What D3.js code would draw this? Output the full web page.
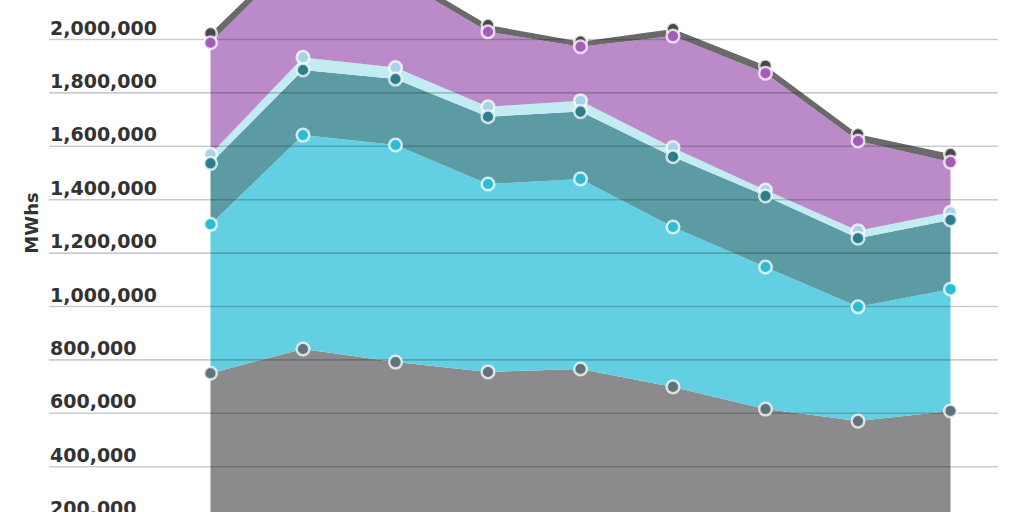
<!DOCTYPE html>
<html>
<head>
<meta charset="utf-8">
<script src="https://cdn.jsdelivr.net/npm/d3@7"></script>
<style>
  html, body { margin: 0; padding: 0; background: #ffffff; }
  svg { display: block; }
</style>
</head>
<body>
<svg id="chart" width="1024" height="512"></svg>
<script>
// ---- data (MWh) ----
const categories = ["1", "2", "3", "4", "5", "6", "7", "8", "9"];
const seriesKeys = ["s1", "s2", "s3", "s4", "s5", "s6"];
const s1 = [748000, 839000, 790000, 753000, 764000, 697000, 614000, 569000, 607000];
const s2 = [558000, 801000, 813000, 704000, 712000, 599000, 532000, 428000, 456000];
const s3 = [228000, 244000, 247000, 252000, 252000, 263000, 266000, 257000, 259000];
const s4 = [34000, 47000, 43000, 37000, 41000, 34000, 22000, 28000, 29000];
const s5 = [418000, 398000, 338000, 281000, 202000, 418000, 438000, 336000, 188000];
const s6 = [35000, 27000, 27000, 25000, 19000, 26000, 28000, 25000, 30000];
const tickValues = [200000, 400000, 600000, 800000, 1000000, 1200000, 1400000, 1600000, 1800000, 2000000];
const yLabel = "MWhs";

const areaColors = ["#8b8b8d", "#63cfe2", "#5c9ba4", "#c2ebf2", "#bb8bc9", "#6a6a6a"];
const dotColors  = ["#607378", "#2dbcd4", "#2a7f8b", "#a9d3e8", "#a35db7", "#484848"];

const seriesArrays = [s1, s2, s3, s4, s5, s6];
const table = categories.map((c, i) => {
  const row = { cat: c };
  seriesKeys.forEach((k, j) => row[k] = seriesArrays[j][i]);
  return row;
});

const svg = d3.select("#chart");

const x = d3.scalePoint().domain(categories).range([210.5, 950.5]);
const y = d3.scaleLinear().domain([0, 2000000]).range([573, 39]);

const stack = d3.stack().keys(seriesKeys);
const layers = stack(table);

const area = d3.area()
  .x(d => x(d.data.cat))
  .y0(d => y(d[0]))
  .y1(d => y(d[1]));

// areas
svg.append("g").selectAll("path")
  .data(layers)
  .join("path")
  .attr("d", area)
  .attr("fill", (d, i) => areaColors[i]);

// gridlines + tick labels via axis
const axis = d3.axisRight(y)
  .tickValues(tickValues)
  .tickSize(949)
  .tickFormat(d3.format(","));

const gAxis = svg.append("g")
  .attr("transform", "translate(49,0)")
  .call(axis);
gAxis.select(".domain").remove();
gAxis.selectAll(".tick line")
  .attr("stroke", "#000")
  .attr("stroke-opacity", 0.2)
  .attr("stroke-width", 1.6);
gAxis.selectAll(".tick text")
  .attr("x", 1)
  .attr("dy", -5)
  .attr("text-anchor", "start")
  .attr("dominant-baseline", "auto")
  .attr("fill", "#333333")
  .style("font-family", "'DejaVu Sans', sans-serif")
  .style("font-weight", "bold")
  .style("font-size", "19px");

// y label
svg.append("text")
  .attr("transform", "translate(38,223) rotate(-90)")
  .attr("text-anchor", "middle")
  .attr("fill", "#333333")
  .style("font-family", "'DejaVu Sans', sans-serif")
  .style("font-weight", "bold")
  .style("font-size", "18px")
  .text(yLabel);

// dots (top layers drawn first so lower ones sit on top)
const layerIdx = layers.map((l, i) => i).reverse();
layerIdx.forEach(i => {
  svg.append("g").selectAll("circle")
    .data(layers[i])
    .join("circle")
    .attr("cx", d => x(d.data.cat))
    .attr("cy", d => y(d[1]))
    .attr("r", 6.3)
    .attr("fill", dotColors[i])
    .attr("stroke", "#ffffff")
    .attr("stroke-opacity", 0.75)
    .attr("stroke-width", 2.5);
});
</script>
</body>
</html>
